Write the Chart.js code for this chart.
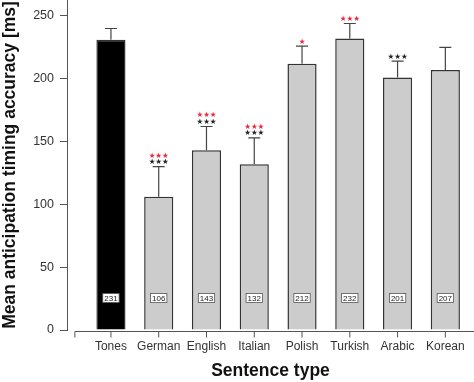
<!DOCTYPE html>
<html>
<head>
<meta charset="utf-8">
<script src="https://cdn.jsdelivr.net/npm/chart.js@4/dist/chart.umd.min.js"></script>
<style>
html,body{margin:0;padding:0;background:#fff;}
#wrap{width:474px;height:382px;position:relative;}
</style>
</head>
<body>
<div id="wrap"><canvas id="c" width="474" height="382"></canvas></div>
<script>
const categories = ['Tones','German','English','Italian','Polish','Turkish','Arabic','Korean'];
const meanValues = [231, 106, 143, 132, 212, 232, 201, 207];
const errorValues = [9, 24, 19, 21, 14, 12, 13, 18];
const redStars = ['', '★★★', '★★★', '★★★', '★', '★★★', '', ''];
const blackStars = ['', '★★★', '★★★', '★★★', '', '', '★★★', ''];
const yTicks = [0, 50, 100, 150, 200, 250];
const barColors = ['#000000','#cccccc','#cccccc','#cccccc','#cccccc','#cccccc','#cccccc','#cccccc'];

const FONT = 'Liberation Sans, Arial, Helvetica, sans-serif';

const extras = {
  id: 'extras',
  afterDatasetsDraw(chart) {
    const ctx = chart.ctx;
    const xs = chart.scales.x, ys = chart.scales.y;
    const meta = chart.getDatasetMeta(0);
    ctx.save();
    meta.data.forEach((bar, i) => {
      const x = bar.x;
      const yTop = ys.getPixelForValue(meanValues[i] + errorValues[i]);
      const yBar = ys.getPixelForValue(meanValues[i]);
      ctx.strokeStyle = '#444';
      ctx.lineWidth = 1.2;
      ctx.beginPath();
      ctx.moveTo(x, yBar); ctx.lineTo(x, yTop);
      ctx.moveTo(x - 6, yTop); ctx.lineTo(x + 6, yTop);
      ctx.stroke();
      // stars
      ctx.font = '7.5px DejaVu Sans';
      ctx.textAlign = 'center';
      ctx.textBaseline = 'middle';
      let yy = yTop - 4.5;
      if (blackStars[i]) {
        ctx.fillStyle = '#222';
        ctx.fillText(blackStars[i], x, yy);
        yy -= 6.5;
      }
      if (redStars[i]) {
        ctx.fillStyle = '#e8283c';
        ctx.fillText(redStars[i], x, yy);
      }
      // value labels
      const ly = ys.getPixelForValue(25.5);
      ctx.font = '8px ' + FONT;
      const txt = String(meanValues[i]);
      const w = ctx.measureText(txt).width + 3;
      ctx.fillStyle = '#fff';
      ctx.fillRect(x - w / 2, ly - 4.5, w, 9);
      ctx.strokeStyle = '#555';
      ctx.lineWidth = 0.8;
      ctx.strokeRect(x - w / 2, ly - 4.5, w, 9);
      ctx.fillStyle = '#222';
      ctx.fillText(txt, x, ly + 0.5);
    });
    // x axis line with ticks
    const ay = chart.chartArea.bottom + 1.5;
    ctx.strokeStyle = '#555';
    ctx.lineWidth = 1;
    ctx.beginPath();
    const x0 = xs.getPixelForValue(-0.755);
    ctx.moveTo(x0, ay); ctx.lineTo(chart.chartArea.right, ay);
    ctx.moveTo(x0, ay); ctx.lineTo(x0, ay + 6);
    categories.forEach((c, i) => {
      const px = xs.getPixelForValue(i);
      ctx.moveTo(px, ay); ctx.lineTo(px, ay + 6);
    });
    ctx.stroke();
    ctx.restore();
  }
};

new Chart(document.getElementById('c'), {
  type: 'bar',
  data: {
    labels: categories,
    datasets: [{
      data: meanValues.map((v, i) => ({x: i, y: v})),
      backgroundColor: barColors,
      borderColor: '#333',
      borderWidth: 1.5,
      barPercentage: 0.61,
      categoryPercentage: 1.0
    }]
  },
  options: {
    responsive: false,
    animation: false,
    events: [],
    layout: {padding: {top: 0, right: 0, left: 0, bottom: 0}},
    plugins: {legend: {display: false}, tooltip: {enabled: false}},
    scales: {
      x: {
        type: 'linear',
        offset: false,
        min: -0.92,
        max: 7.6,
        afterBuildTicks(s) { s.ticks = categories.map((c, i) => ({value: i})); },
        afterFit(s) { s.height = 52; s.paddingLeft = 0; s.paddingRight = 0; },
        grid: {display: false, drawTicks: false},
        border: {display: false},
        ticks: {
          autoSkip: false,
          maxRotation: 0,
          padding: 9,
          color: '#333',
          font: {family: FONT, size: 12},
          callback: (v) => categories[v]
        },
        title: {
          display: true,
          text: 'Sentence type',
          color: '#111',
          font: {family: FONT, size: 17.5, weight: 'bold'},
          padding: {top: 6, bottom: 0}
        }
      },
      y: {
        min: 0,
        max: 262.7,
        afterBuildTicks(s) { s.ticks = yTicks.map(v => ({value: v})); },
        afterFit(s) { s.width = 67; s.paddingTop = 0; s.paddingBottom = 0; },
        grid: {drawOnChartArea: false, drawTicks: true, tickLength: 7, color: '#555'},
        border: {display: true, color: '#555', width: 1},
        ticks: {
          padding: 6,
          color: '#333',
          font: {family: FONT, size: 12.5}
        },
        title: {
          display: true,
          text: 'Mean anticipation timing accuracy [ms]',
          color: '#111',
          font: {family: FONT, size: 17.5, weight: 'bold'},
          padding: {top: 0, bottom: 0}
        }
      }
    }
  },
  plugins: [extras]
});
</script>
</body>
</html>
